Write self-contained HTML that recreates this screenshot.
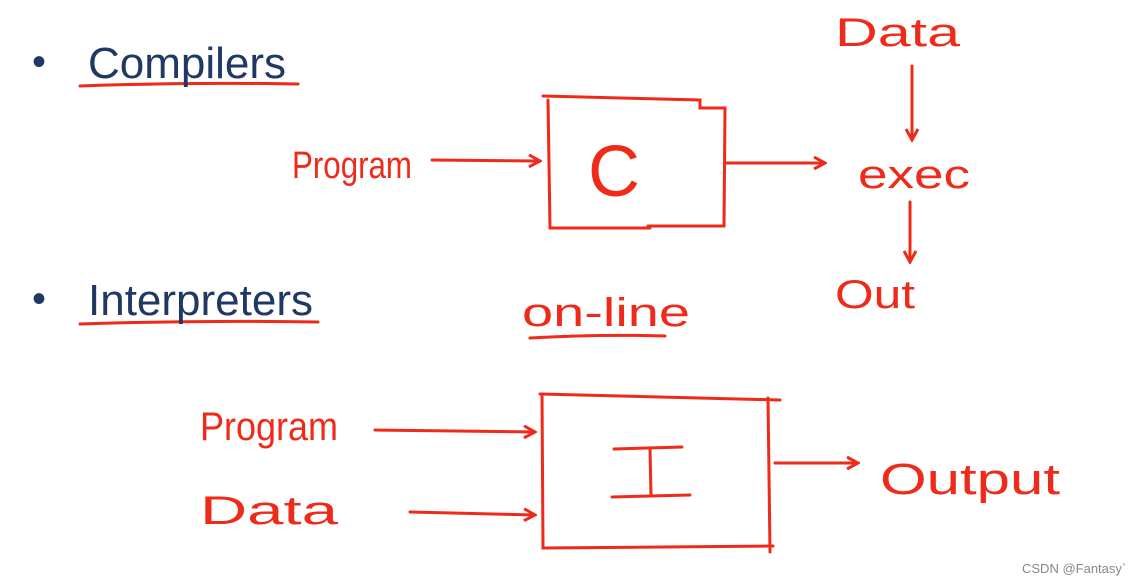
<!DOCTYPE html>
<html><head><meta charset="utf-8">
<style>
html,body{margin:0;padding:0;background:#fff;width:1141px;height:586px;overflow:hidden}
svg{display:block}
.h{font-family:"Liberation Sans",sans-serif;fill:#ee2a1a}
.b{font-family:"Liberation Sans",sans-serif;fill:#1f3864}
</style></head><body>
<svg width="1141" height="586" viewBox="0 0 1141 586">
<defs><marker id="a" markerWidth="14" markerHeight="14" refX="12" refY="7" orient="auto" markerUnits="userSpaceOnUse">
<path d="M1,1 L12,7 L1,13" fill="none" stroke="#ee2a1a" stroke-width="3"/></marker></defs>
<g stroke="#ee2a1a" stroke-width="3" fill="none" stroke-linecap="round">
<path d="M80,86 Q190,82 298,84"/>
<path d="M80,324 Q200,320 318,322"/>
<path d="M530,338 Q600,334 665,336"/>
<path d="M543,96 L700,100 L700,108 L725,108 L724,226 L648,226 M548,100 L550,228 L650,228"/>
<path d="M540,394 L780,400 M542,394 L543,548 L773,546 M768,398 L770,552"/>
<path d="M614,449 L682,447 M650,449 L651,496 M612,497 L690,495"/>
<line x1="432" y1="160" x2="540" y2="161" marker-end="url(#a)"/>
<line x1="726" y1="163" x2="825" y2="163" marker-end="url(#a)"/>
<line x1="912" y1="66" x2="912" y2="140" marker-end="url(#a)"/>
<line x1="910" y1="202" x2="910" y2="262" marker-end="url(#a)"/>
<line x1="375" y1="430" x2="535" y2="432" marker-end="url(#a)"/>
<line x1="410" y1="512" x2="535" y2="515" marker-end="url(#a)"/>
<line x1="775" y1="463" x2="858" y2="463" marker-end="url(#a)"/>
</g>
<text x="32" y="75" class="b" font-size="40">•</text>
<text x="88" y="78" class="b" font-size="44">Compilers</text>
<text x="32" y="312" class="b" font-size="40">•</text>
<text x="88" y="315" class="b" font-size="44">Interpreters</text>
<g class="h">
<text x="835" y="46" font-size="40" textLength="125" lengthAdjust="spacingAndGlyphs">Data</text>
<text x="292" y="178" font-size="38" textLength="120" lengthAdjust="spacingAndGlyphs">Program</text>
<text x="588" y="196" font-size="72">C</text>
<text x="858" y="188" font-size="40" textLength="112" lengthAdjust="spacingAndGlyphs">exec</text>
<text x="835" y="308" font-size="40" textLength="80" lengthAdjust="spacingAndGlyphs">Out</text>
<text x="522" y="326" font-size="40" textLength="168" lengthAdjust="spacingAndGlyphs">on-line</text>
<text x="200" y="440" font-size="40" textLength="138" lengthAdjust="spacingAndGlyphs">Program</text>
<text x="200" y="524" font-size="40" textLength="138" lengthAdjust="spacingAndGlyphs">Data</text>
<text x="880" y="494" font-size="44" textLength="180" lengthAdjust="spacingAndGlyphs">Output</text>
</g>
<text x="1022" y="573" font-family="Liberation Sans,sans-serif" font-size="13" fill="#888">CSDN @Fantasy`</text>
</svg>
</body></html>
